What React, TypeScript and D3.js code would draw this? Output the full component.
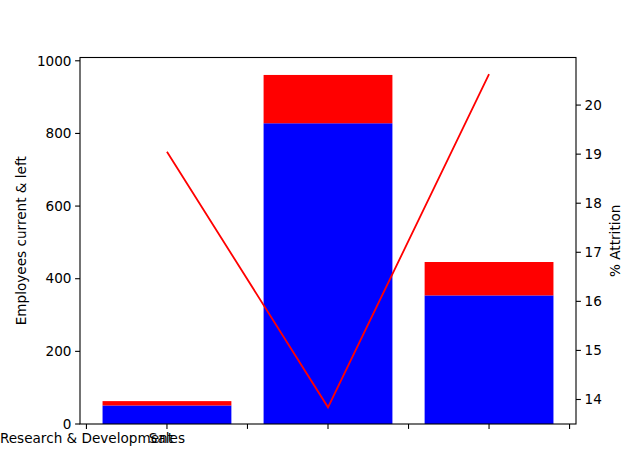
import * as d3 from "d3";

const departments = ["Human Resources", "Research & Development", "Sales"];
const stayed = [51, 828, 354];
const left = [12, 133, 92];
const attritionPct = [19.05, 13.84, 20.63];

const xTickValues = [-0.5, 0, 0.5, 1, 1.5, 2, 2.5];
const xTickLabels = ["Research & Development", "Sales", "", "", "", "", ""];
const leftTicks = [0, 200, 400, 600, 800, 1000];
const rightTicks = [14, 15, 16, 17, 18, 19, 20];

const W = 640;
const H = 476;
const m = { top: 57.5, right: 64, bottom: 52, left: 80 };
const fontSize = 13.6;
const font = "'DejaVu Sans', sans-serif";

const App = () => {
  const x0 = m.left;
  const x1 = W - m.right;
  const y0 = H - m.bottom;
  const y1 = m.top;

  const totals = stayed.map((s, i) => s + left[i]);
  const xScale = d3.scaleLinear().domain([-0.54, 2.54]).range([x0, x1]);
  const yMax = (d3.max(totals) || 1) * 1.05;
  const yLeft = d3.scaleLinear().domain([0, yMax]).range([y0, y1]);
  const lo = d3.min(attritionPct) || 0;
  const hi = d3.max(attritionPct) || 1;
  const pad = (hi - lo) * 0.05;
  const yRight = d3.scaleLinear().domain([lo - pad, hi + pad]).range([y0, y1]);

  const barW = xScale(0.4) - xScale(0);
  const line = d3
    .line<number>()
    .x((_, i) => xScale(i))
    .y((d) => yRight(d));

  return (
    <svg width={W} height={H} style={{ position: "absolute", left: 0, top: 0, background: "#fff" }} fontFamily={font} fontSize={fontSize}>
      {/* bars: stayed in blue, left in red on top */}
      {departments.map((d, i) => (
        <g key={d}>
          <rect x={xScale(i) - barW} width={barW * 2} y={yLeft(stayed[i])} height={y0 - yLeft(stayed[i])} fill="#0000ff" />
          <rect x={xScale(i) - barW} width={barW * 2} y={yLeft(totals[i])} height={yLeft(stayed[i]) - yLeft(totals[i])} fill="#ff0000" />
        </g>
      ))}

      <path d={line(attritionPct) || ""} fill="none" stroke="#ff0000" strokeWidth={1.8} />

      {/* frame */}
      <rect x={x0} y={y1} width={x1 - x0} height={y0 - y1} fill="none" stroke="#000" strokeWidth={1.1} />

      {/* left axis */}
      {leftTicks.map((t) => (
        <g key={"l" + t} transform={`translate(${x0},${yLeft(t)})`}>
          <line x1={0} x2={-4.9} stroke="#000" strokeWidth={1.1} />
          <text x={-8.5} dy="0.35em" textAnchor="end" fill="#000">{t}</text>
        </g>
      ))}

      {/* right axis */}
      {rightTicks.map((t) => (
        <g key={"r" + t} transform={`translate(${x1},${yRight(t)})`}>
          <line x1={0} x2={4.9} stroke="#000" strokeWidth={1.1} />
          <text x={8.5} dy="0.35em" textAnchor="start" fill="#000">{t}</text>
        </g>
      ))}

      {/* bottom axis */}
      {xTickValues.map((t, i) => (
        <g key={"x" + t} transform={`translate(${xScale(t)},${y0})`}>
          <line y1={0} y2={4.9} stroke="#000" strokeWidth={1.1} />
          <text y={8.5} dy="0.8em" textAnchor="middle" fill="#000">{xTickLabels[i]}</text>
        </g>
      ))}

      <text transform={`translate(21,${(y0 + y1) / 2}) rotate(-90)`} dy="0.35em" textAnchor="middle" fill="#000">
        Employees current &amp; left
      </text>
      <text transform={`translate(615,${(y0 + y1) / 2}) rotate(-90)`} dy="0.35em" textAnchor="middle" fill="#000">
        % Attrition
      </text>
    </svg>
  );
};

export default App;
